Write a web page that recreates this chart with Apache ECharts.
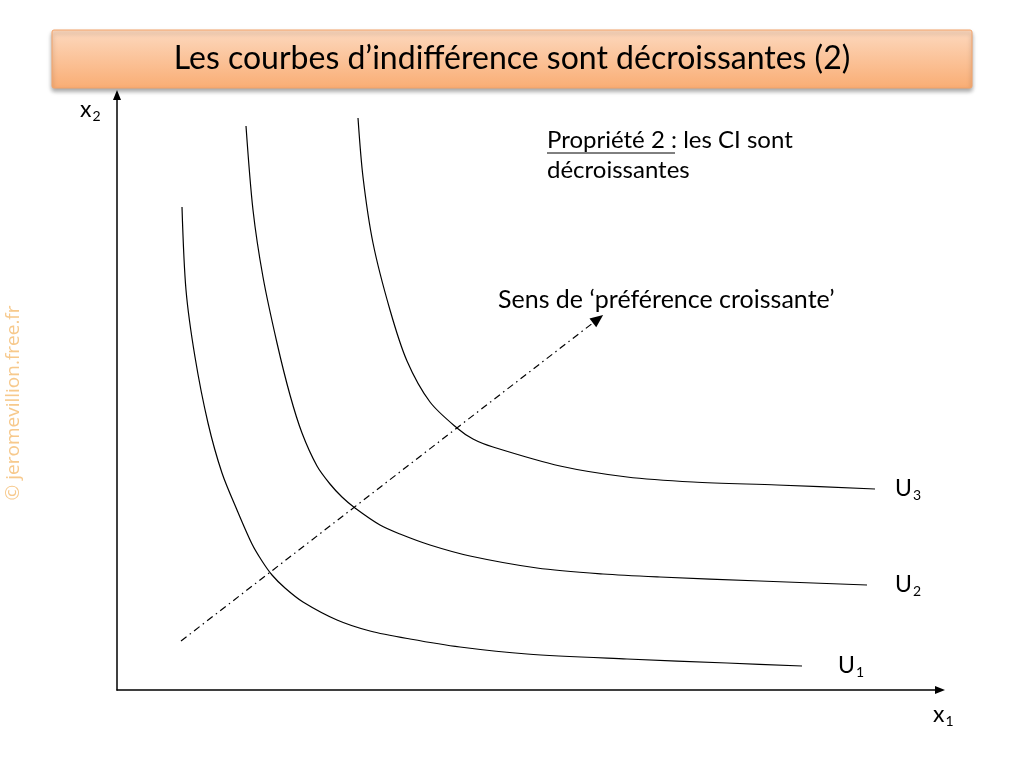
<!DOCTYPE html>
<html lang="fr">
<head>
<meta charset="UTF-8">
<title>Les courbes d’indifférence sont décroissantes (2)</title>
<style>
  * { margin: 0; padding: 0; }
  body { background: #fff; }
  #main { width: 1024px; height: 768px; }
</style>
</head>
<body>
<div id="main"></div>
<script src="https://cdn.jsdelivr.net/npm/echarts@6/dist/echarts.min.js"></script>
<script>
// axis extent (units = distance from origin)
var xMax = 823, yMax = 595;

// indifference curves
var u1X = [65, 69, 78, 91, 105, 120, 135, 145, 155, 168, 186, 220, 253, 293, 343, 410, 510, 610, 685];
var u1Y = [483, 400, 333, 267, 217, 180, 146, 129, 115, 102, 88, 70, 59, 51, 43, 36, 31, 27, 24];

var u2X = [129, 136, 146, 160, 173, 185, 200, 213, 225, 238, 263, 283, 313, 353, 420, 486, 543, 643, 750];
var u2Y = [564, 480, 413, 347, 295, 257, 224, 206, 193, 182, 165, 156, 145, 134, 122, 116, 113, 109, 105];

var u3X = [241, 246, 256, 273, 290, 313, 340, 356, 376, 443, 510, 576, 660, 758];
var u3Y = [572, 513, 447, 380, 329, 288, 262, 251, 243, 224, 213, 208, 205, 201];

// direction of increasing preference
var prefFrom = [64, 49];
var prefTo = [481, 371];

var curveNames = ['U1', 'U2', 'U3'];
var labelGaps = [36, 28, 20];

var FONT = 'Lato, "Open Sans", sans-serif';

function zip(xs, ys) {
    var res = [];
    for (var i = 0; i < xs.length; i++) {
        res.push([xs[i], ys[i]]);
    }
    return res;
}

var myChart = echarts.init(document.getElementById('main'));

var subRich = {
    m: { fontFamily: FONT, fontSize: 23, color: '#000' },
    s: { fontFamily: FONT, fontSize: 14, color: '#000', verticalAlign: 'bottom', padding: [12, 0, 0, 1] }
};

var curves = [zip(u1X, u1Y), zip(u2X, u2Y), zip(u3X, u3Y)];
var series = curves.map(function (d, i) {
    return {
        name: curveNames[i],
        type: 'line',
        data: d,
        smooth: 0.3,
        showSymbol: false,
        silent: true,
        lineStyle: { color: '#000', width: 1.2 },
        endLabel: {
            show: true,
            distance: labelGaps[i],
            formatter: function (p) {
                return '{m|U}{s|' + p.seriesName.substring(1) + '}';
            },
            rich: subRich
        }
    };
});

// dash-dot arrow
series.push({
    type: 'line',
    data: [],
    silent: true,
    markLine: {
        silent: true,
        symbol: ['none', 'triangle'],
        symbolSize: [11, 13],
        label: { show: false },
        lineStyle: { color: '#000', width: 1.2, type: [7, 4, 1.5, 4] },
        data: [[{ coord: prefFrom }, { coord: prefTo }]]
    }
});

var option = {
    animation: false,
    grid: { left: 117, right: 84, top: 95, bottom: 78 },
    xAxis: {
        type: 'value', min: 0, max: xMax,
        axisLine: { lineStyle: { color: '#000', width: 1.5 }, symbol: ['none', 'triangle'], symbolSize: [8, 10] },
        axisTick: { show: false }, axisLabel: { show: false }, splitLine: { show: false }
    },
    yAxis: {
        type: 'value', min: 0, max: yMax,
        axisLine: { lineStyle: { color: '#000', width: 1.5 }, symbol: ['none', 'triangle'], symbolSize: [8, 10] },
        axisTick: { show: false }, axisLabel: { show: false }, splitLine: { show: false }
    },
    graphic: [
        {
            type: 'rect', shape: { x: 52, y: 30, width: 920, height: 58, r: 2 },
            style: {
                fill: new echarts.graphic.LinearGradient(0, 0, 0, 1, [
                    { offset: 0, color: '#fdd9bf' },
                    { offset: 1, color: '#f9ad74' }
                ]),
                stroke: '#f4a46a', lineWidth: 1,
                shadowColor: 'rgba(0,0,0,0.35)', shadowBlur: 4, shadowOffsetY: 3
            }
        },
        {
            type: 'text', x: 512, y: 59,
            style: { text: 'Les courbes d’indifférence sont décroissantes (2)', font: '32px ' + FONT, fill: '#000', align: 'center', verticalAlign: 'middle' }
        },
        {
            type: 'text', x: 14, y: 403, rotation: Math.PI / 2,
            style: { text: '© jeromevillion.free.fr', font: '19px "Open Sans", sans-serif', fill: '#f7c98c', align: 'center', verticalAlign: 'middle' }
        },
        {
            type: 'text', x: 80, y: 110,
            style: { text: '{m|x}{s|2}', verticalAlign: 'middle', rich: subRich }
        },
        {
            type: 'text', x: 933, y: 715,
            style: { text: '{m|x}{s|1}', verticalAlign: 'middle', rich: subRich }
        },
        {
            type: 'text', x: 547, y: 140,
            style: { text: 'Propriété 2 : les CI sont', font: '24px ' + FONT, fill: '#000', verticalAlign: 'middle' }
        },
        {
            type: 'line', shape: { x1: 547, y1: 153, x2: 675, y2: 153 },
            style: { stroke: '#000', lineWidth: 1 }
        },
        {
            type: 'text', x: 547, y: 170,
            style: { text: 'décroissantes', font: '24px ' + FONT, fill: '#000', verticalAlign: 'middle' }
        },
        {
            type: 'text', x: 498, y: 300,
            style: { text: 'Sens de ‘préférence croissante’', font: '25px ' + FONT, fill: '#000', verticalAlign: 'middle' }
        }
    ],
    series: series
};

myChart.setOption(option);
</script>
</body>
</html>
